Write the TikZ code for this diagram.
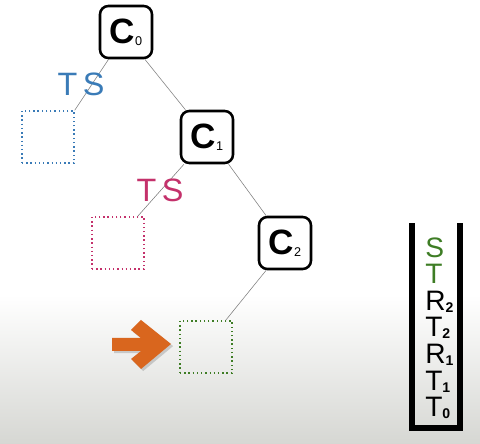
\documentclass[tikz,border=0pt]{standalone}
\usepackage{fontspec}
\setmainfont{Liberation Sans}
\usetikzlibrary{shadows}
\definecolor{tsblue}{HTML}{3A7BB7}
\definecolor{tsred}{HTML}{C4316B}
\definecolor{tsgreen}{HTML}{3E7D25}
\definecolor{arroworange}{HTML}{D9661E}
\definecolor{bgbottom}{HTML}{D6D7D3}
\tikzset{
  call/.style={draw,line width=1.8pt,rounded corners=6pt,minimum size=1.3cm,inner sep=0pt,font=\fontsize{25}{25}\selectfont\bfseries},
  slot/.style={draw,line width=1pt,dotted,minimum size=1.3cm,inner sep=0pt},
  edge/.style={black!50,line width=0.4pt},
  lbl/.style={font=\fontsize{23}{23}\selectfont,inner sep=0pt},
  entry/.style={font=\fontsize{20}{20}\selectfont,inner sep=0pt,anchor=base west},
  wall/.style={line width=4pt,line cap=rect}
}
\newcommand{\callname}[1]{C\raisebox{-0.1ex}{\fontsize{9}{9}\selectfont\mdseries #1}}
\newcommand{\entryname}[2]{#1\raisebox{-0.1ex}{\fontsize{10}{10}\selectfont\bfseries #2}}
\begin{document}
\begin{tikzpicture}[x=0.025cm,y=-0.025cm]
  \useasboundingbox (0,0) rectangle (480,444);
  % background
  \fill[white] (0,0) rectangle (480,295);
  \shade[top color=white,bottom color=bgbottom] (0,295) rectangle (480,444);

  % calls
  \node[call] (c0) at (126,32) {\callname{0}};
  \node[call] (c1) at (207,137) {\callname{1}};
  \node[call] (c2) at (285,243) {\callname{2}};

  % handlers
  \node[slot,tsblue] (h0) at (48,137) {};
  \node[slot,tsred] (h1) at (118,243) {};
  \node[slot,tsgreen] (h2) at (206,347) {};

  \draw[edge] ([xshift=7]c0.south west) -- (h0.north east);
  \draw[edge] ([xshift=-6]c0.south east) -- ([xshift=4]c1.north west);
  \draw[edge] ([xshift=3]c1.south west) -- ([xshift=-5]h1.north east);
  \draw[edge] ([xshift=-4]c1.south east) -- ([xshift=6]c2.north west);
  \draw[edge] ([xshift=6]c2.south west) -- ([xshift=-5]h2.north east);

  \node[lbl,tsblue] (ts0) at (81,84) {T\,S};
  \node[lbl,tsred] (ts1) at (160,190) {T\,S};

  % arrow
  \fill[arroworange,drop shadow={opacity=0.35,shadow xshift=1.5pt,shadow yshift=-1.5pt}]
    (171,344) -- (141,320) -- (131,330) -- (141,338) -- (112,338) -- (112,351)
    -- (141,351) -- (131,359) -- (141,369) -- cycle;

  % stack
  \coordinate (sw) at (412,226);
  \coordinate (se) at (460,226);
  \draw[wall] (sw) -- (412,428) -- (460,428) -- (se);
  \node[entry,tsgreen] (s6) at (425,258) {S};
  \node[entry,tsgreen] (s5) at (425,284) {T};
  \node[entry] (s4) at (425,311) {\entryname{R}{2}};
  \node[entry] (s3) at (425,337) {\entryname{T}{2}};
  \node[entry] (s2) at (425,364) {\entryname{R}{1}};
  \node[entry] (s1) at (425,391) {\entryname{T}{1}};
  \node[entry] (s0) at (425,417) {\entryname{T}{0}};
\end{tikzpicture}
\end{document}
